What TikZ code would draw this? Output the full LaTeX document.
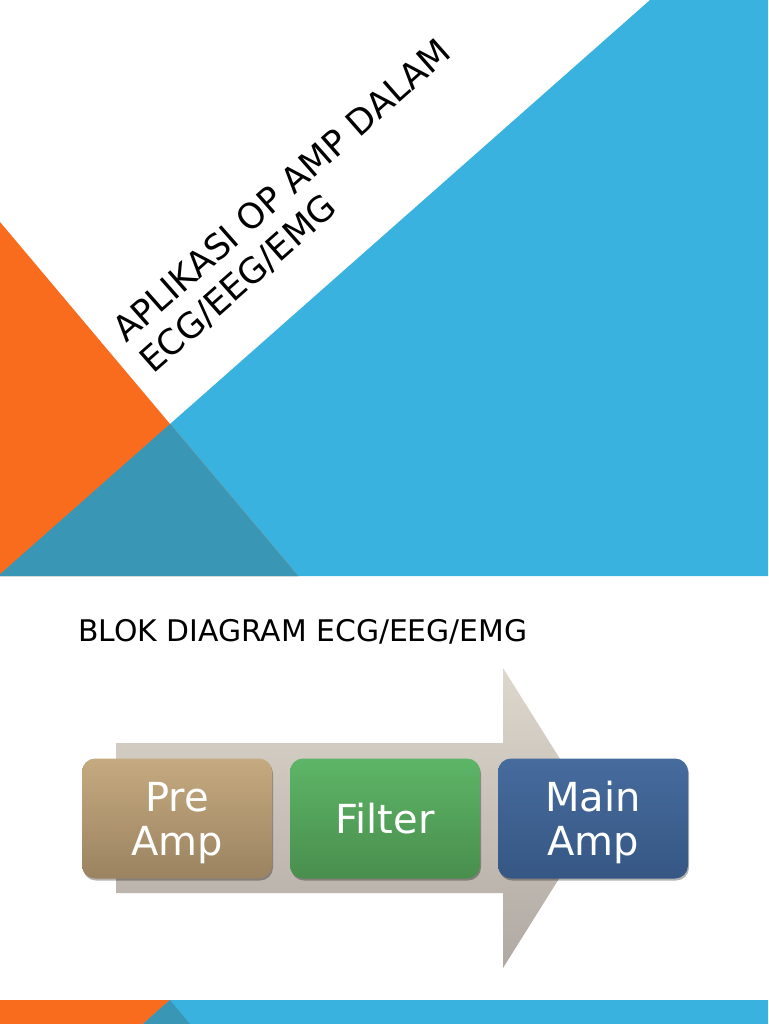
\documentclass[tikz,border=0pt]{standalone}
\usepackage{fontspec}
\setmainfont{DejaVu Sans}
\usetikzlibrary{shadows}
\definecolor{slorange}{RGB}{249,108,30}
\definecolor{slblue}{RGB}{58,178,224}
\definecolor{slteal}{RGB}{58,150,181}
\definecolor{arrtop}{RGB}{222,215,205}
\definecolor{arrbot}{RGB}{176,169,163}
\definecolor{pretop}{RGB}{197,170,128}
\definecolor{prebot}{RGB}{155,131,97}
\definecolor{filtop}{RGB}{93,181,103}
\definecolor{filbot}{RGB}{73,142,77}
\definecolor{maintop}{RGB}{70,107,157}
\definecolor{mainbot}{RGB}{54,87,132}
\begin{document}
\begin{tikzpicture}[x=1pt,y=-1pt,
  blockbox/.style={rounded corners=13pt, minimum width=190pt, minimum height=120pt,
    inner sep=0pt, align=center, text=white, text depth=0pt,
    font=\fontsize{40}{44}\selectfont,
    drop shadow={shadow xshift=1pt, shadow yshift=-2pt, opacity=0.3, fill=black}},
  titletext/.style={anchor=base west, inner sep=0pt, rotate=41.4,
    font=\fontsize{35}{41}\selectfont, text=black}]
\useasboundingbox (0,0) rectangle (768,1024);
\fill[white] (0,0) rectangle (768,1024);
% ---- top slide ----
\fill[slblue] (650,0) -- (768,0) -- (768,576) -- (-2,576) -- cycle;
\fill[slorange] (0,222) -- (298,576) -- (0,576) -- cycle;
\fill[slteal] (170,424) -- (298,576) -- (-2,576) -- cycle;
\node[titletext] (t1) at (126,344) {APLIKASI OP AMP DALAM};
\node[titletext] (t2) at (153,375) {ECG/EEG/EMG};
% ---- bottom slide ----
\node[anchor=base west, inner sep=0pt, font=\fontsize{29.8}{34}\selectfont] (t3) at (78,641) {BLOK DIAGRAM ECG/EEG/EMG};
\shade[top color=arrtop, bottom color=arrbot]
  (116,743) -- (503,743) -- (503,668) -- (597,818) -- (503,968) -- (503,893) -- (116,893) -- cycle;
\node[blockbox, top color=pretop, bottom color=prebot] (pre) at (177,818.5) {Pre\\Amp};
\node[blockbox, top color=filtop, bottom color=filbot] (fil) at (385,818.5) {Filter};
\node[blockbox, top color=maintop, bottom color=mainbot] (main) at (593,818.5) {Main\\Amp};
% bottom stripe
\fill[slorange] (0,1000) -- (170,1000) -- (190,1024) -- (0,1024) -- cycle;
\fill[slblue] (170,1000) -- (768,1000) -- (768,1024) -- (143,1024) -- cycle;
\fill[slteal] (170,1000) -- (190,1024) -- (143,1024) -- cycle;
\end{tikzpicture}
\end{document}
